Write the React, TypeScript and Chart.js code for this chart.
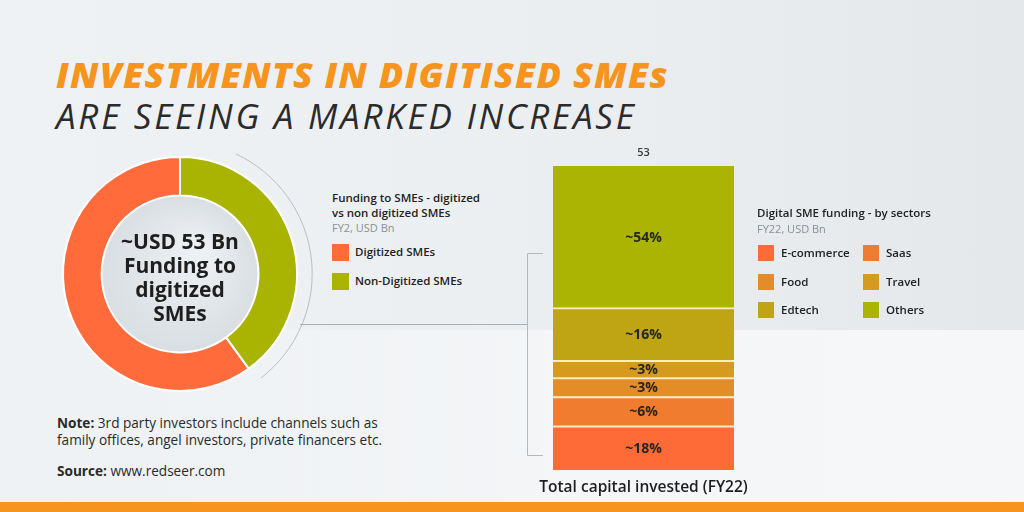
import React, { useEffect, useRef } from "react";
import { Chart, registerables } from "chart.js";

Chart.register(...registerables);

// ---------- data ----------
const donutLabels = ["Digitized SMEs", "Non-Digitized SMEs"];
const donutValues = [60, 40];
const donutColors = ["#FF6B3B", "#A9B301"];

const barCategory = ["Total capital invested (FY22)"];
const sectorLabels = ["E-commerce", "Saas", "Food", "Travel", "Edtech", "Others"];
const sectorValues = [7.7, 5.1, 3.3, 3.0, 9.2, 24.8]; // USD Bn, bottom to top
const sectorPctLabels = ["~18%", "~6%", "~3%", "~3%", "~16%", "~54%"];
const sectorColors = ["#FF6B37", "#F07D2F", "#E38D28", "#D59A1E", "#BFA414", "#ABB402"];
const barTotal = 53;

const FONT = "'Open Sans', 'DejaVu Sans', sans-serif";

const DonutChart: React.FC = () => {
  const ref = useRef<HTMLCanvasElement | null>(null);
  useEffect(() => {
    if (!ref.current) return;
    const innerPlugin = {
      id: "innerDisc",
      beforeDatasetsDraw(chart: any) {
        const meta = chart.getDatasetMeta(0);
        const el = meta.data[0];
        if (!el) return;
        const { x, y, innerRadius } = el as any;
        const ctx = chart.ctx;
        ctx.save();
        const g = ctx.createRadialGradient(x + 20, y - 25, 5, x, y, innerRadius);
        g.addColorStop(0, "#eef1f4");
        g.addColorStop(1, "#d9dee2");
        ctx.fillStyle = g;
        ctx.beginPath();
        ctx.arc(x, y, innerRadius, 0, Math.PI * 2);
        ctx.fill();
        ctx.restore();
      },
      afterDraw(chart: any) {
        const el = chart.getDatasetMeta(0).data[0] as any;
        if (!el) return;
        const ctx = chart.ctx;
        ctx.save();
        ctx.fillStyle = "#1e1e1e";
        ctx.font = `700 21px ${FONT}`;
        ctx.textAlign = "center";
        ctx.textBaseline = "middle";
        const lines = ["~USD 53 Bn", "Funding to", "digitized", "SMEs"];
        const y0 = el.y - 31;
        lines.forEach((l, i) => ctx.fillText(l, el.x, y0 + i * 24));
        ctx.restore();
      },
    };
    const chart = new Chart(ref.current, {
      type: "doughnut",
      data: {
        labels: donutLabels,
        datasets: [
          {
            data: donutValues,
            backgroundColor: donutColors,
            borderColor: "#ffffff",
            borderWidth: 2,
          },
        ],
      },
      options: {
        animation: false,
        responsive: false,
        rotation: 144,
        cutout: "67%",
        layout: { padding: 7 },
        plugins: { legend: { display: false }, tooltip: { enabled: false } },
      },
      plugins: [innerPlugin],
    });
    return () => chart.destroy();
  }, []);
  return (
    <canvas
      ref={ref}
      width={250}
      height={250}
      style={{ position: "absolute", left: 55, top: 149, width: 250, height: 250 }}
    />
  );
};

const BarChart: React.FC = () => {
  const ref = useRef<HTMLCanvasElement | null>(null);
  useEffect(() => {
    if (!ref.current) return;
    const labelPlugin = {
      id: "segLabels",
      afterDatasetsDraw(chart: any) {
        const ctx = chart.ctx;
        ctx.save();
        ctx.textAlign = "center";
        ctx.textBaseline = "middle";
        ctx.fillStyle = "#262626";
        ctx.font = `700 14px ${FONT}`;
        chart.data.datasets.forEach((ds: any, i: number) => {
          const el = chart.getDatasetMeta(i).data[0] as any;
          if (!el) return;
          ctx.fillText(sectorPctLabels[i], el.x, (el.y + el.base) / 2 + 1);
        });
        const area = chart.chartArea;
        const cx = (area.left + area.right) / 2;
        ctx.font = `600 11px ${FONT}`;
        ctx.fillStyle = "#3a3a3a";
        ctx.fillText(String(barTotal), cx, area.top - 13);
        ctx.font = `600 15.5px ${FONT}`;
        ctx.fillStyle = "#1e1e1e";
        ctx.fillText(barCategory[0], cx, area.bottom + 18);
        ctx.restore();
      },
    };
    const chart = new Chart(ref.current, {
      type: "bar",
      data: {
        labels: barCategory,
        datasets: sectorLabels.map((l, i) => ({
          label: l,
          data: [sectorValues[i]],
          backgroundColor: sectorColors[i],
          borderColor: "#f7eec8",
          borderWidth: i === sectorLabels.length - 1 ? 0 : { top: 2, bottom: 0, left: 0, right: 0 },
          borderSkipped: false,
          barPercentage: 1,
          categoryPercentage: 1,
        })),
      },
      options: {
        animation: false,
        responsive: false,
        layout: { padding: { left: 53, right: 76, top: 26, bottom: 30 } },
        scales: {
          x: { stacked: true, display: false },
          y: { stacked: true, display: false, min: 0, max: barTotal },
        },
        plugins: { legend: { display: false }, tooltip: { enabled: false } },
      },
      plugins: [labelPlugin],
    });
    return () => chart.destroy();
  }, []);
  return (
    <canvas
      ref={ref}
      width={310}
      height={360}
      style={{ position: "absolute", left: 500, top: 140, width: 310, height: 360 }}
    />
  );
};

const Swatch: React.FC<{ color: string; left: number; top: number; size?: number }> = ({
  color,
  left,
  top,
  size = 17,
}) => (
  <div style={{ position: "absolute", left, top, width: size, height: size, background: color }} />
);

const Txt: React.FC<{ left: number; top: number; style?: React.CSSProperties; children: React.ReactNode }> = ({
  left,
  top,
  style,
  children,
}) => (
  <div style={{ position: "absolute", left, top, whiteSpace: "nowrap", fontFamily: FONT, ...style }}>{children}</div>
);

export default function App() {
  const legendText: React.CSSProperties = { fontSize: 11.5, fontWeight: 600, color: "#222", lineHeight: "14px" };
  return (
    <div
      style={{
        position: "fixed",
        left: 0,
        top: 0,
        width: 1024,
        height: 512,
        overflow: "hidden",
        background: "linear-gradient(90deg, #eff2f4 0%, #eceff2 50%, #e4e8eb 100%)",
      }}
    >
      {/* lighter lower band */}
      <div
        style={{
          position: "absolute",
          left: 0,
          top: 330,
          width: 1024,
          height: 172,
          background: "linear-gradient(90deg, rgba(240,243,245,0) 0%, rgba(242,244,246,0.6) 30%, #f4f6f8 55%, #f5f7f8 100%)",
        }}
      />
      {/* bottom orange strip */}
      <div style={{ position: "absolute", left: 0, top: 502, width: 1024, height: 10, background: "#F7941D" }} />

      {/* title */}
      <Txt
        left={56}
        top={50}
        style={{ fontSize: 36, fontWeight: 800, fontStyle: "italic", color: "#F7941D", letterSpacing: 1.25 }}
      >
        INVESTMENTS IN DIGITISED SMEs
      </Txt>
      <Txt
        left={56}
        top={92}
        style={{ fontSize: 35, fontWeight: 400, fontStyle: "italic", color: "#2b2b2b", letterSpacing: 2.75 }}
      >
        ARE SEEING A MARKED INCREASE
      </Txt>

      {/* decorative lines */}
      <svg width={1024} height={512} style={{ position: "absolute", left: 0, top: 0 }}>
        <path d="M 236 154 A 132 132 0 0 1 261 378" fill="none" stroke="#b9bec3" strokeWidth={1} />
        <line x1={300} y1={324.5} x2={527} y2={324.5} stroke="#a9aeb3" strokeWidth={1} />
        <polyline points="543,253.5 527.5,253.5 527.5,455.5 543,455.5" fill="none" stroke="#b3b8bd" strokeWidth={1} />
      </svg>

      <DonutChart />
      <BarChart />

      {/* donut legend */}
      <Txt left={332} top={190} style={{ ...legendText, lineHeight: "15px" }}>
        Funding to SMEs - digitized
        <br />
        vs non digitized SMEs
      </Txt>
      <Txt left={332} top={220} style={{ fontSize: 11, color: "#8a8f94" }}>
        FY2, USD Bn
      </Txt>
      <Swatch color={donutColors[0]} left={332} top={244} />
      <Txt left={355} top={245} style={legendText}>
        {donutLabels[0]}
      </Txt>
      <Swatch color={donutColors[1]} left={332} top={273} />
      <Txt left={355} top={274} style={legendText}>
        {donutLabels[1]}
      </Txt>

      {/* sector legend */}
      <Txt left={757} top={206} style={legendText}>
        Digital SME funding - by sectors
      </Txt>
      <Txt left={757} top={221} style={{ fontSize: 11, color: "#8a8f94" }}>
        FY22, USD Bn
      </Txt>
      {sectorLabels.map((l, i) => {
        const col = i % 2;
        const row = Math.floor(i / 2);
        const sx = col === 0 ? 758 : 863;
        const sy = 245 + row * 28.5;
        return (
          <React.Fragment key={l}>
            <Swatch color={sectorColors[i]} left={sx} top={sy} size={16} />
            <Txt left={sx + 23} top={sy + 1} style={legendText}>
              {l}
            </Txt>
          </React.Fragment>
        );
      })}

      {/* notes */}
      <Txt left={57} top={414} style={{ fontSize: 13.6, color: "#2a2a2a", lineHeight: "17px" }}>
        <b>Note:</b> 3rd party investors include channels such as
        <br />
        family offices, angel investors, private financers etc.
      </Txt>
      <Txt left={57} top={461} style={{ fontSize: 13.6, color: "#2a2a2a" }}>
        <b>Source:</b> www.redseer.com
      </Txt>
    </div>
  );
}
